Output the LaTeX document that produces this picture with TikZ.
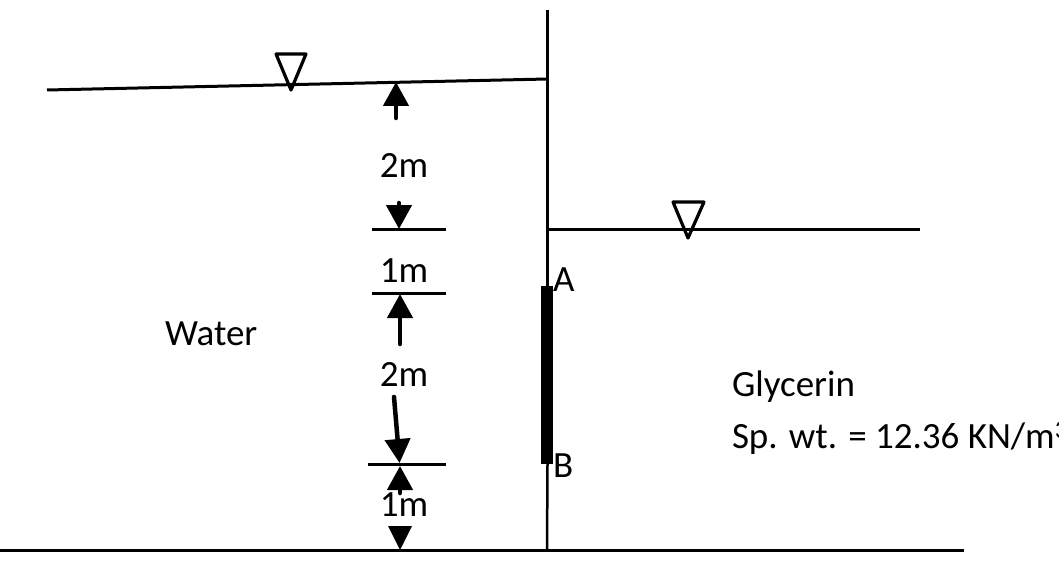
\documentclass[tikz,border=0pt]{standalone}
\usepackage{fontspec}
\setmainfont{Carlito}
\usetikzlibrary{arrows.meta}
\tikzset{
  x=1pt,y=-1pt,
  ln/.style={line width=3pt,black},
  thinln/.style={line width=2.5pt,black},
  dim/.style={line width=4.5pt,black,line cap=round,-{Triangle[length=24pt,width=25pt,sep=0pt]}},
  surf/.style={draw=black,line width=3.2pt,line join=round,fill=none},
  txt/.style={anchor=base west,inner sep=0pt,outer sep=0pt,font=\fontsize{37}{44}\selectfont,text=black},
  lab/.style={anchor=base,inner sep=0pt,outer sep=0pt,font=\fontsize{37}{44}\selectfont,text=black}
}
\begin{document}
\begin{tikzpicture}
\useasboundingbox (0,0) rectangle (1059,564);
% named points
\coordinate (wt) at (547.5,10);
\coordinate (wb) at (547,550);
\coordinate (wm) at (547.5,464);
\coordinate (sl) at (47,90);
\coordinate (slr) at (547.5,79);
\coordinate (sr) at (547.5,229);
\coordinate (srr) at (920,229);
\coordinate (g1) at (0,550);
\coordinate (g2) at (964,550);
\coordinate (t1a) at (372,229); \coordinate (t1b) at (446,229);
\coordinate (t2a) at (372,293); \coordinate (t2b) at (446,293);
\coordinate (t3a) at (368,464); \coordinate (t3b) at (446,464);
\coordinate (pa) at (547,286); \coordinate (pb) at (547,464);
\coordinate (a1s) at (396,118); \coordinate (a1e) at (396,82);
\coordinate (a2s) at (399,203); \coordinate (a2e) at (399,229);
\coordinate (a3s) at (400,344); \coordinate (a3e) at (400,294);
\coordinate (a4s) at (394,397); \coordinate (a4e) at (399.6,463);
\coordinate (a5s) at (400,493); \coordinate (a5e) at (400,466);
\coordinate (a6s) at (400,527); \coordinate (a6e) at (400,550);
% lines
\draw[ln] (wt) -- (wm);
\draw[thinln] (wm) -- (wb);
\draw[ln] (sl) -- (slr);
\draw[ln] (sr) -- (srr);
\draw[ln] (g1) -- (g2);
\draw[ln] (t1a) -- (t1b);
\draw[ln] (t2a) -- (t2b);
\draw[ln] (t3a) -- (t3b);
\draw[line width=12pt,black] (pa) -- (pb);
% surface markers
\draw[surf] (276,54) -- (306,54) -- (291,90) -- cycle;
\draw[surf] (673,202) -- (704,202) -- (688,238) -- cycle;
% dimension arrows
\draw[dim] (a1s) -- (a1e);
\draw[dim] (a2s) -- (a2e);
\draw[dim] (a3s) -- (a3e);
\draw[dim] (a4s) -- (a4e);
\draw[dim] (a5s) -- (a5e);
\fill[black] (388,526) -- (412,526) -- (a6e) -- cycle;
% text
\node[lab] (d1) at (404,178) {2m};
\node[lab] (d2) at (404,282) {1m};
\node[lab] (d3) at (404,386) {2m};
\node[lab] (d4) at (404,516) {1m};
\node[txt] (water) at (165,345) {Water};
\node[txt] (A) at (553,291) {A};
\node[txt] (B) at (553,477) {B};
\node[txt] (gly) at (732,396) {Glycerin};
\node[txt] (sp) at (732,448) {Sp. wt. = 12.36 KN/m\textsuperscript{3}};
\end{tikzpicture}
\end{document}
